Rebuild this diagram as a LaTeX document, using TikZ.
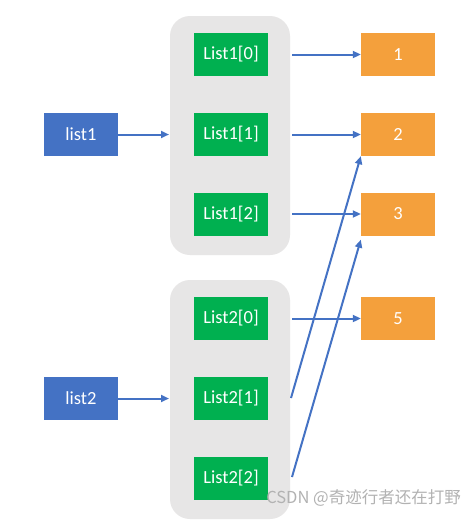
\documentclass[tikz,border=0pt]{standalone}
\usepackage{fontspec}
\setmainfont{Carlito}
\newfontfamily\cjk{Noto Sans CJK SC}
\usetikzlibrary{arrows.meta}
\definecolor{cblue}{HTML}{4472C4}
\definecolor{cgreen}{HTML}{00B050}
\definecolor{corange}{HTML}{F4A03C}
\definecolor{cgray}{HTML}{E7E6E6}
\begin{document}
\begin{tikzpicture}[x=1pt,y=-1pt,
  box/.style={minimum width=74pt,minimum height=43pt,inner sep=0pt,text=white,font=\fontsize{18.5}{22}\selectfont},
  bluebox/.style={box,fill=cblue},
  greenbox/.style={box,fill=cgreen},
  orangebox/.style={box,fill=corange},
  holder/.style={fill=cgray,rounded corners=20pt},
  conn/.style={draw=cblue,line width=2pt,-{Triangle[length=8pt,width=7pt]}}]
\useasboundingbox (0,0) rectangle (474,528);
\fill[white] (0,0) rectangle (474,528);
\path[holder] (170,16) rectangle (290,255);
\path[holder] (170,280) rectangle (290,519);
\node[bluebox] (l1) at (81,134.5) {list1};
\node[bluebox] (l2) at (81,398.5) {list2};
\node[greenbox] (a0) at (231,54.5) {List1[0]};
\node[greenbox] (a1) at (231,134.5) {List1[1]};
\node[greenbox] (a2) at (231,214) {List1[2]};
\node[greenbox] (b0) at (231,318.5) {List2[0]};
\node[greenbox] (b1) at (231,398.5) {List2[1]};
\node[greenbox] (b2) at (231,478) {List2[2]};
\node[orangebox] (v1) at (398,54.5) {1};
\node[orangebox] (v2) at (398,134.5) {2};
\node[orangebox] (v3) at (398,214) {3};
\node[orangebox] (v5) at (398,318.5) {5};
\coordinate (h1) at (169,134.5);
\coordinate (h2) at (169,398.5);
\coordinate (s0) at (292,54.5);
\coordinate (s1) at (292,134.5);
\coordinate (s2) at (292,214);
\coordinate (t0) at (292,318.5);
\coordinate (t1) at (291,398);
\coordinate (t2) at (292,477);
\draw[conn] (l1.east) -- (h1);
\draw[conn] (l2.east) -- (h2);
\draw[conn] (s0) -- (v1.west);
\draw[conn] (s1) -- (v2.west);
\draw[conn] (s2) -- (v3.west);
\draw[conn] (t0) -- (v5.west);
\draw[conn] (t1) -- (v2.south west);
\draw[conn] (t2) -- ([yshift=-4pt]v3.south west);
\node[anchor=east,text=black!30,font=\cjk\fontsize{16.5}{19}\selectfont,inner sep=0pt] (wm) at (461,498) {CSDN @奇迹行者还在打野};
\end{tikzpicture}
\end{document}
